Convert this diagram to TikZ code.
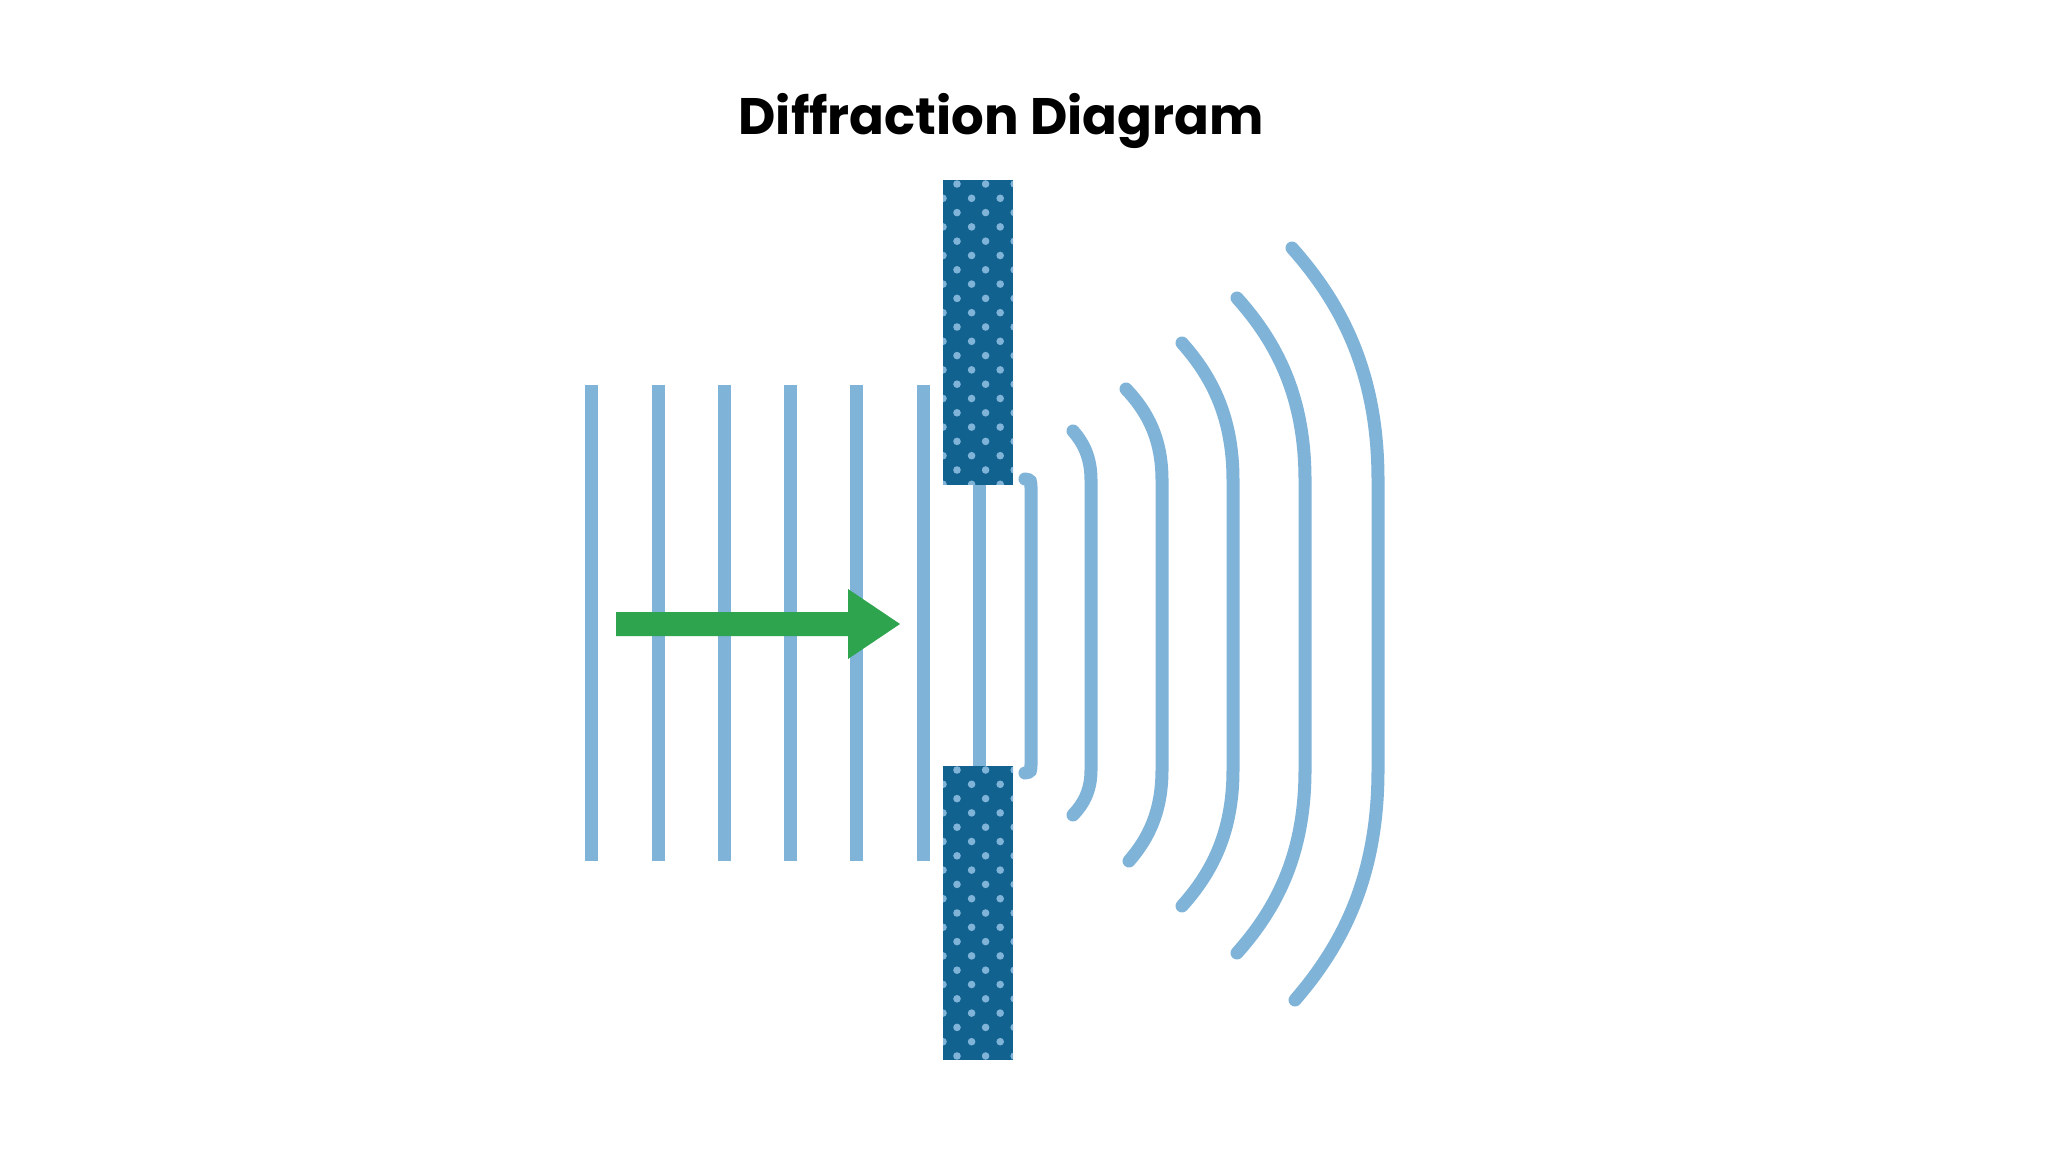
\documentclass[tikz,border=0pt]{standalone}
\usepackage{fontspec}
\setmainfont{Poppins}
\definecolor{wave}{HTML}{80B3D8}
\definecolor{wall}{HTML}{11628F}
\definecolor{arrowg}{HTML}{2EA44F}
\begin{document}
\begin{tikzpicture}[x=0.01cm,y=-0.01cm,
  wv/.style={draw=wave,line width=13*0.2845pt},
  wvr/.style={wv,line cap=round}]
\useasboundingbox[fill=white] (0,0) rectangle (2048,1152);
\node[font=\bfseries\fontsize{14.6}{18}\selectfont] (title) at (1001,121) {Diffraction Diagram};
% plane waves
\foreach \x in {591,658,724,790,856,923}
  \draw[wv] (\x,385) -- (\x,861);
\draw[wv] (979,483) -- (979,766);
% barriers with dots
\foreach \ya/\yb in {180/485,766/1060}{
  \fill[wall] (943,\ya) rectangle (1013,\yb);
  \begin{scope}
    \clip (943,\ya) rectangle (1013,\yb);
    \foreach \i in {0,...,22}{
      \pgfmathsetmacro\yy{\ya+4+14.3*\i}
      \pgfmathsetmacro\off{mod(\i,2)==0 ? 14 : 0}
      \foreach \k in {0,1,2}
        \fill[wave] (943+\off+28.6*\k,\yy) circle (3.8);
    }
  \end{scope}
}
% diffracted waves
\draw[wvr] (1025,479) .. controls (1031,480) .. (1031,490) -- (1031,762) .. controls (1031,772) .. (1025,773);
\foreach \xt/\yt/\X/\xb/\yb in {1073/431/1091/1073/815, 1126/389/1162/1129/861, 1182/343/1233/1182/906, 1237/298/1305/1237/953, 1292/248/1378/1295/1000}{
  \draw[wvr] (\xt,\yt) .. controls ({\xt+0.6*(\X-\xt)},{\yt+0.25*(480-\yt)}) and (\X,{\yt+0.55*(480-\yt)}) .. (\X,480) -- (\X,770)
     .. controls (\X,{770+0.45*(\yb-770)}) and ({\xb+0.6*(\X-\xb)},{\yb-0.25*(\yb-770)}) .. (\xb,\yb);
}
% arrow
\fill[arrowg] (616,612) -- (848,612) -- (848,589) -- (900,624) -- (848,659) -- (848,636) -- (616,636) -- cycle;
\end{tikzpicture}
\end{document}
